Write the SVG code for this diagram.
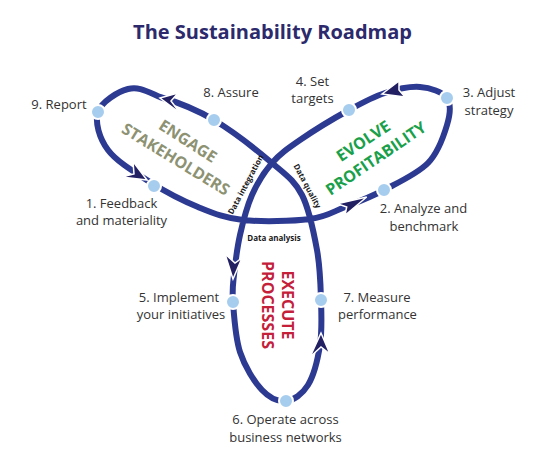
<svg xmlns="http://www.w3.org/2000/svg" width="550" height="462" viewBox="0 0 550 462">
<style>
.loop{fill:none;stroke:#2d3a92;stroke-width:6;stroke-linecap:butt}
.arrow{fill:#221f63;stroke:#fff;stroke-width:1.5;stroke-linejoin:miter}
.dot{fill:#a6cdee;stroke:#fff;stroke-width:2}
.lbl{font-family:"Open Sans","Noto Sans",sans-serif;font-size:13px;fill:#333;text-anchor:middle}
.big{font-family:"Open Sans","Noto Sans",sans-serif;font-size:16px;font-weight:bold;text-anchor:middle}
.small{font-family:"Open Sans","Noto Sans",sans-serif;font-size:8px;font-weight:bold;fill:#1a1a1a;text-anchor:middle}
.title{font-family:"Open Sans","Noto Sans",sans-serif;font-size:20px;font-weight:bold;fill:#2c2a6c;text-anchor:middle}
</style>
<rect width="550" height="462" fill="#fff"/>
<text class="title" x="272.5" y="39">The Sustainability Roadmap</text>
<g id="connectors">
<path class="loop" d="M214,120 C195.3,108.8 174.3,101.2 160,97 C145.7,90.8 138.3,86.3 128,89 C117.7,91.7 101.3,101.8 98,112 C94.7,122.2 99.3,138.3 108,150 C116.7,161.7 135,172.5 150,182 C165,191.5 182.5,200.7 198,207 C213.5,213.3 224.3,218 243,220 C261.7,222 293,221.2 310,219 C327,216.8 332.7,211.8 345,207 C357.3,202.2 370.2,197.3 384,190 C397.8,182.7 417.5,173.8 428,163 C438.5,152.2 443.8,135.8 447,125 C450.2,114.2 451.5,104.3 447,98 C442.5,91.7 430.3,87.8 420,87 C409.7,86.2 396.8,89.2 385,93 C373.2,96.8 363.2,102.2 349,110 C334.8,117.8 312.8,131.2 300,140 C287.2,148.8 280,153.8 272,163 C264,172.2 257.3,183 252,195 C246.7,207 243,221.7 240,235 C237,248.3 235.2,263.8 234,275 C232.8,286.2 232,289.2 233,302 C234,314.8 235.2,337.3 240,352 C244.8,366.7 254.3,381.8 262,390 C269.7,398.2 278.3,401.8 286,401 C293.7,400.2 302.3,394.3 308,385 C313.7,375.7 317.8,359.2 320,345 C322.2,330.8 321.5,315.8 321,300 C320.5,284.2 320.2,267.5 317,250 C313.8,232.5 309.5,209.5 302,195 C294.5,180.5 286.7,175.5 272,163 C257.3,150.5 232.7,131.2 214,120 Z"/>
<polygon class="arrow" points="160,98 178,93 171,101 180,113"/>
<polygon class="arrow" points="147,180 133,161.5 134,174 121.5,177"/>
<polygon class="arrow" points="366.7,197 337.3,203.7 346.7,207 345,215.3"/>
<polygon class="arrow" points="382,94 399,81 399,90 405,97"/>
<polygon class="arrow" points="233,279 225,254 235,263 242,258"/>
<polygon class="arrow" points="321,333 310,357 321,347 330,354"/>
</g>
<g id="data-labels">
<text class="small" transform="translate(245.5,184.5) rotate(-62)" y="3">Data integration</text>
<text class="small" transform="translate(307.5,186) rotate(62)" y="3">Data quality</text>
<text class="small" x="274" y="240.5">Data analysis</text>
</g>
<g id="engage">
<text class="big" fill="#8d9273" transform="translate(188,141) rotate(32.7)" y="5.7">ENGAGE</text>
<text class="big" fill="#8d9273" transform="translate(175.8,159.2) rotate(31.5)" y="5.7">STAKEHOLDERS</text>
</g>
<g id="evolve">
<text class="big" fill="#1aa04a" transform="translate(363.3,140.8) rotate(-33.2)" y="5.7">EVOLVE</text>
<text class="big" fill="#1aa04a" transform="translate(375.8,158.3) rotate(-34.2)" y="5.7">PROFITABILITY</text>
</g>
<g id="execute">
<text class="big" fill="#c4203a" transform="translate(287.5,305) rotate(90)" y="5.7">EXECUTE</text>
<text class="big" fill="#c4203a" transform="translate(267.5,305) rotate(90)" y="5.7">PROCESSES</text>
</g>
<g id="node-1"><circle class="dot" cx="154" cy="186" r="7"/><text class="lbl" x="121.5" y="207.7">1. Feedback</text><text class="lbl" x="121.5" y="225">and materiality</text></g>
<g id="node-2"><circle class="dot" cx="384" cy="190" r="7"/><text class="lbl" x="423.5" y="212.7">2. Analyze and</text><text class="lbl" x="424" y="230.7">benchmark</text></g>
<g id="node-3"><circle class="dot" cx="447" cy="98" r="7"/><text class="lbl" x="489" y="97.3">3. Adjust</text><text class="lbl" x="489" y="115">strategy</text></g>
<g id="node-4"><circle class="dot" cx="349" cy="110" r="7"/><text class="lbl" x="312.5" y="85.5">4. Set</text><text class="lbl" x="312.5" y="103.3">targets</text></g>
<g id="node-5"><circle class="dot" cx="233" cy="302" r="7"/><text class="lbl" x="179" y="301.7">5. Implement</text><text class="lbl" x="181" y="319.3">your initiatives</text></g>
<g id="node-6"><circle class="dot" cx="286" cy="401" r="7"/><text class="lbl" x="285.5" y="424.3">6. Operate across</text><text class="lbl" x="285.5" y="441.7">business networks</text></g>
<g id="node-7"><circle class="dot" cx="321" cy="300" r="7"/><text class="lbl" x="377" y="301.7">7. Measure</text><text class="lbl" x="377.5" y="319.3">performance</text></g>
<g id="node-8"><circle class="dot" cx="214" cy="120" r="7"/><text class="lbl" x="231" y="96.5">8. Assure</text></g>
<g id="node-9"><circle class="dot" cx="98" cy="112" r="7"/><text class="lbl" x="59" y="109">9. Report</text></g>
</svg>
